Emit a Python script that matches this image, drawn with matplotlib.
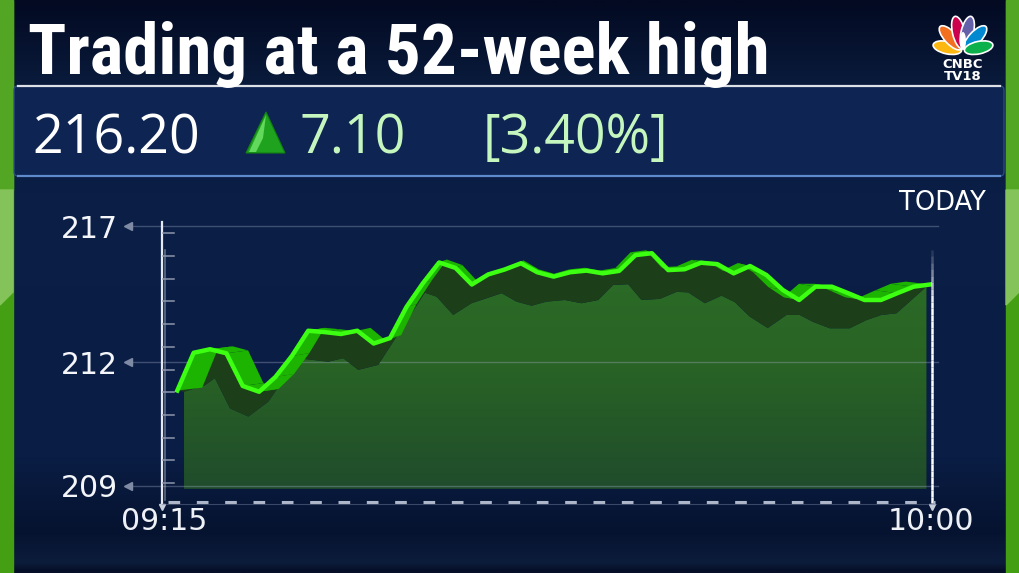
import numpy as np
import matplotlib
matplotlib.use("Agg")
import matplotlib.pyplot as plt
from matplotlib import font_manager
from matplotlib.patches import Polygon, Rectangle, FancyBboxPatch, Ellipse
from matplotlib.colors import LinearSegmentedColormap
from matplotlib.collections import LineCollection
from matplotlib.ticker import NullLocator

# ###############################################
title = "Trading at a 52-week high"
last_price = "216.20"
change = "7.10"
change_pct = "[3.40%]"
period = "TODAY"
time_labels = ["09:15", "10:00"]
y_ticks = [209, 212, 217]

# intraday price, one point per step from the open
price = [211.31, 212.34, 212.47, 212.32, 211.42, 211.28, 211.64, 212.22, 213.15, 213.10,
         213.03, 213.15, 212.68, 212.88, 214.02, 214.89, 215.66, 215.46, 214.85, 215.22,
         215.40, 215.63, 215.30, 215.14, 215.30, 215.36, 215.26, 215.35, 215.93, 216.00,
         215.38, 215.41, 215.65, 215.60, 215.26, 215.53, 215.20, 214.65, 214.28, 214.77,
         214.77, 214.53, 214.28, 214.28, 214.53, 214.77, 214.85]

# lower (back) edge of the 3d ribbon
shadow_x = [0.41, 1.69, 2.30, 3.22, 4.34, 5.56, 7.39, 9.22, 10.14, 11.06, 12.28,
            15.13, 15.85, 16.86, 17.98, 19.82, 20.73, 21.65, 22.57, 23.68, 24.70,
            25.72, 26.63, 27.55, 28.37, 29.49, 30.51, 31.22, 32.24, 33.26, 34.07,
            34.98, 36.08, 37.23, 38.04, 38.83, 39.87, 41.09, 42.11, 43.03, 43.95, 45.78]
shadow_y = [211.28, 211.44, 211.61, 210.88, 210.68, 211.04, 212.14, 212.01, 212.14, 211.81, 211.93,
            214.55, 214.40, 213.73, 214.16, 214.53, 214.22, 214.07, 214.22, 214.28, 214.16,
            214.28, 214.83, 214.86, 214.28, 214.32, 214.58, 214.56, 214.16, 214.44, 214.20,
            213.67, 213.25, 213.73, 213.73, 213.48, 213.24, 213.24, 213.54, 213.73, 213.79, 214.77]
fill_base = 208.93
# ###############################################

W, H, DPI = 1019, 573, 100
plt.rcParams['font.family'] = ['DejaVu Sans']
plt.rcParams['lines.scale_dashes'] = False

names = {f.name for f in font_manager.fontManager.ttflist}
title_font = next((n for n in ['Liberation Sans Narrow', 'Roboto Condensed', 'Open Sans Condensed']
                   if n in names), 'Roboto')
num_font = 'Open Sans' if 'Open Sans' in names else 'DejaVu Sans'


# the broadcast axis is stretched differently above and below 212
def fwd(v):
    v = np.asarray(v, dtype=float)
    return np.where(v <= 212, v - 209, 3 + (v - 212) * 0.658)


def inv(t):
    t = np.asarray(t, dtype=float)
    return np.where(t <= 3, t + 209, 212 + (t - 3) / 0.658)


fig = plt.figure(figsize=(W / DPI, H / DPI), dpi=DPI)

# background layer in pixel coordinates
bg = fig.add_axes([0, 0, 1, 1])
bg.set_xlim(0, W)
bg.set_ylim(H, 0)
bg.axis('off')
bg_cmap = LinearSegmentedColormap.from_list('bg', [(0, '#030a22'), (0.13, '#091939'), (0.35, '#0b1f47'),
                                                  (0.8, '#0a1d44'), (0.93, '#061330'), (0.985, '#0c1c3b'),
                                                  (1, '#060f28')])
bg.imshow(np.linspace(0, 1, 300).reshape(-1, 1), cmap=bg_cmap, extent=(0, W, H, 0), aspect='auto', zorder=0)

# green side bars
for x0 in (0, 1006):
    bg.add_patch(Rectangle((x0, 0), 13, H, color='#44a012', zorder=1))
    bg.add_patch(Rectangle((x0, 0), 13, 190, color='#52a624', zorder=1))
    bg.add_patch(Polygon([(x0, 190), (x0 + 13, 190), (x0 + 13, 292), (x0, 305)], color='#84c35a', zorder=1))

# quote panel
bg.add_patch(FancyBboxPatch((14, 86), 990, 90, boxstyle='round,pad=0,rounding_size=4',
                            facecolor='#0f2655', edgecolor='#2f4f80', lw=1, alpha=0.9, zorder=2))
bg.plot([18, 1000], [86, 86], color='white', lw=1.6, alpha=0.85, zorder=3)
bg.plot([18, 1000], [176, 176], color='#6e9fe6', lw=1.6, alpha=0.8, zorder=3)

renderer = fig.canvas.get_renderer()


def fit_width(t, target):
    w = t.get_window_extent(renderer).width
    t.set_fontsize(t.get_fontsize() * target / w)


t_title = bg.text(28, 74, title, family=[title_font, 'DejaVu Sans'], fontweight='bold',
                  fontsize=50, color='white', va='baseline', ha='left', zorder=4)
fit_width(t_title, 742)

t_last = bg.text(32, 153, last_price, family=[num_font], fontsize=39, color='white', va='baseline', zorder=4)
fit_width(t_last, 168)
fs = t_last.get_fontsize()
bg.text(300, 153, change, family=[num_font], fontsize=fs, color='#c4f6bd', va='baseline', zorder=4)
bg.text(483, 153, change_pct, family=[num_font], fontsize=fs, color='#c4f6bd', va='baseline', zorder=4)

# up arrow
bg.add_patch(Polygon([(246, 153), (285, 153), (266, 112)], fc='#1fa31f', ec='#128012', lw=0.8, zorder=4))
bg.add_patch(Polygon([(249, 152), (266, 115), (263, 138), (256, 152)], fc='#62d95c', lw=0, zorder=4))

# peacock logo
base = (963, 51)
angles = [168, 133, 103, 77, 47, 12]
colors = ['#fcb711', '#f37021', '#cc004c', '#6460aa', '#0089d0', '#0db14b']
dists = [16, 18, 19, 19, 18, 16]
lens = [29, 31, 33, 33, 31, 29]
for a, c, d, L in zip(angles, colors, dists, lens):
    cx = base[0] + d * np.cos(np.radians(a))
    cy = base[1] - d * np.sin(np.radians(a))
    bg.add_patch(Ellipse((cx, cy), L, 12.5, angle=-a, fc=c, ec='white', lw=1.2, zorder=4))
bg.add_patch(Ellipse((963, 41), 6, 18, fc='white', ec='none', zorder=5))
bg.text(963, 80, 'CNBC\nTV18', ha='center', va='baseline', fontsize=9.5, fontweight='bold',
        linespacing=0.95, color='white', zorder=4)

bg.text(986, 203, period, ha='right', va='center', fontsize=18.5, color='white', zorder=4)
bg.text(164, 521, time_labels[0], ha='center', va='center', fontsize=21.5, color='#eef1f6', zorder=4)
bg.text(931, 521, time_labels[1], ha='center', va='center', fontsize=21.5, color='#eef1f6', zorder=4)

# chart
ax = fig.add_axes([162 / W, (H - 501) / H, 770 / W, 279 / H])
ax.set_yscale('function', functions=(fwd, inv))
ax.patch.set_alpha(0)
for s in ax.spines.values():
    s.set_visible(False)

x = np.arange(len(price))
p = np.array(price)
sx = np.array(shadow_x)
sy = np.array(shadow_y)

# main shaded area with vertical gradient
area_x = np.concatenate([sx, [sx[-1], sx[0]]])
area_y = np.concatenate([sy, [fill_base, fill_base]])
area = Polygon(np.column_stack([area_x, area_y]), closed=True, transform=ax.transData, fc='none', ec='none')
ax.add_patch(area)
fill_cmap = LinearSegmentedColormap.from_list('fill', ['#2d6e28', '#296425', '#1f4a2c'])
im = ax.imshow(np.linspace(0, 1, 200).reshape(-1, 1), cmap=fill_cmap, extent=(0, 1, 0, 1),
               transform=ax.transAxes, aspect='auto', zorder=1)
im.set_clip_path(area)

# price gridlines and arrows
yt = ax.get_yaxis_transform()
for v in y_ticks:
    ax.plot([-30 / 770, 776 / 770], [v, v], transform=yt, color='#a4b0c8', lw=1, alpha=0.35,
            clip_on=False, zorder=1.5)
    ax.plot([-34 / 770], [v], marker='<', ms=6, color='#7f8ba5', transform=yt, clip_on=False, zorder=6)

# dark side of the ribbon
ax.fill(np.concatenate([x, sx[::-1]]), np.concatenate([p, sy[::-1]]), color='#1c3f1a', lw=0, zorder=2)

# ribbon top face
bx = x + (23.4 - x) * 0.065
by = inv(fwd(p) + 0.07)
for j in range(len(x) - 1):
    ax.fill([x[j], x[j + 1], bx[j + 1], bx[j]], [p[j], p[j + 1], by[j + 1], by[j]],
            color='#1cb400', lw=0, zorder=3)

ax.plot(x, p, color='#3cff12', lw=3.2, solid_joinstyle='round', zorder=4)

# axes decorations
ax.plot([0, 0], [-0.008, 1.0], transform=ax.transAxes, color='#e6eaf2', lw=1.6, clip_on=False, zorder=6)
ax.plot([0.004, 0.004], [0.003, 0.9], transform=ax.transAxes, color='white', lw=1.2, alpha=0.35,
        clip_on=False, zorder=6)
ax.plot([0], [-0.022], marker='v', ms=5, color='#c9d0dc', transform=ax.transAxes, clip_on=False, zorder=6)
ax.plot([1], [-0.022], marker='v', ms=5, color='#c9d0dc', transform=ax.transAxes, clip_on=False, zorder=6)
for yp in 233.3 + 22.7 * np.arange(12):
    ax.plot([0.001, 12 / 770], [(501 - yp) / 279] * 2, transform=ax.transAxes, color='#8d97ad',
            lw=1.1, clip_on=False, zorder=6)

ys = np.linspace(-0.008, 0.9, 40)
segs = [[(1, ys[i]), (1, ys[i + 1])] for i in range(len(ys) - 1)]
alphas = np.clip((0.9 - ys[:-1]) / 0.2, 0, 1)
lc = LineCollection(segs, colors=[(1, 1, 1, a) for a in alphas], linewidths=1.8,
                    transform=ax.transAxes, clip_on=False, zorder=6)
ax.add_collection(lc)

ax.plot([6 / 770, 773 / 770], [-0.0025] * 2, transform=ax.transAxes, color='#aeb7c9', lw=2.2,
        dashes=(8.4, 12), clip_on=False, zorder=6)
ax.plot([0, 1.005], [-0.009] * 2, transform=ax.transAxes, color='#6c7a96', lw=0.8, alpha=0.5,
        clip_on=False, zorder=6)

ax.set_xticks([])
ax.set_yticks(y_ticks)
ax.set_yticklabels([str(v) for v in y_ticks])
ax.yaxis.set_minor_locator(NullLocator())
ax.tick_params(axis='y', length=0, pad=31.5, labelsize=21.5, labelcolor='#f4f6fa')
ax.set_xlim(-0.935, 46.12)
ax.set_ylim(208.637, 217.148)

fig.savefig('out.png', dpi=DPI)
